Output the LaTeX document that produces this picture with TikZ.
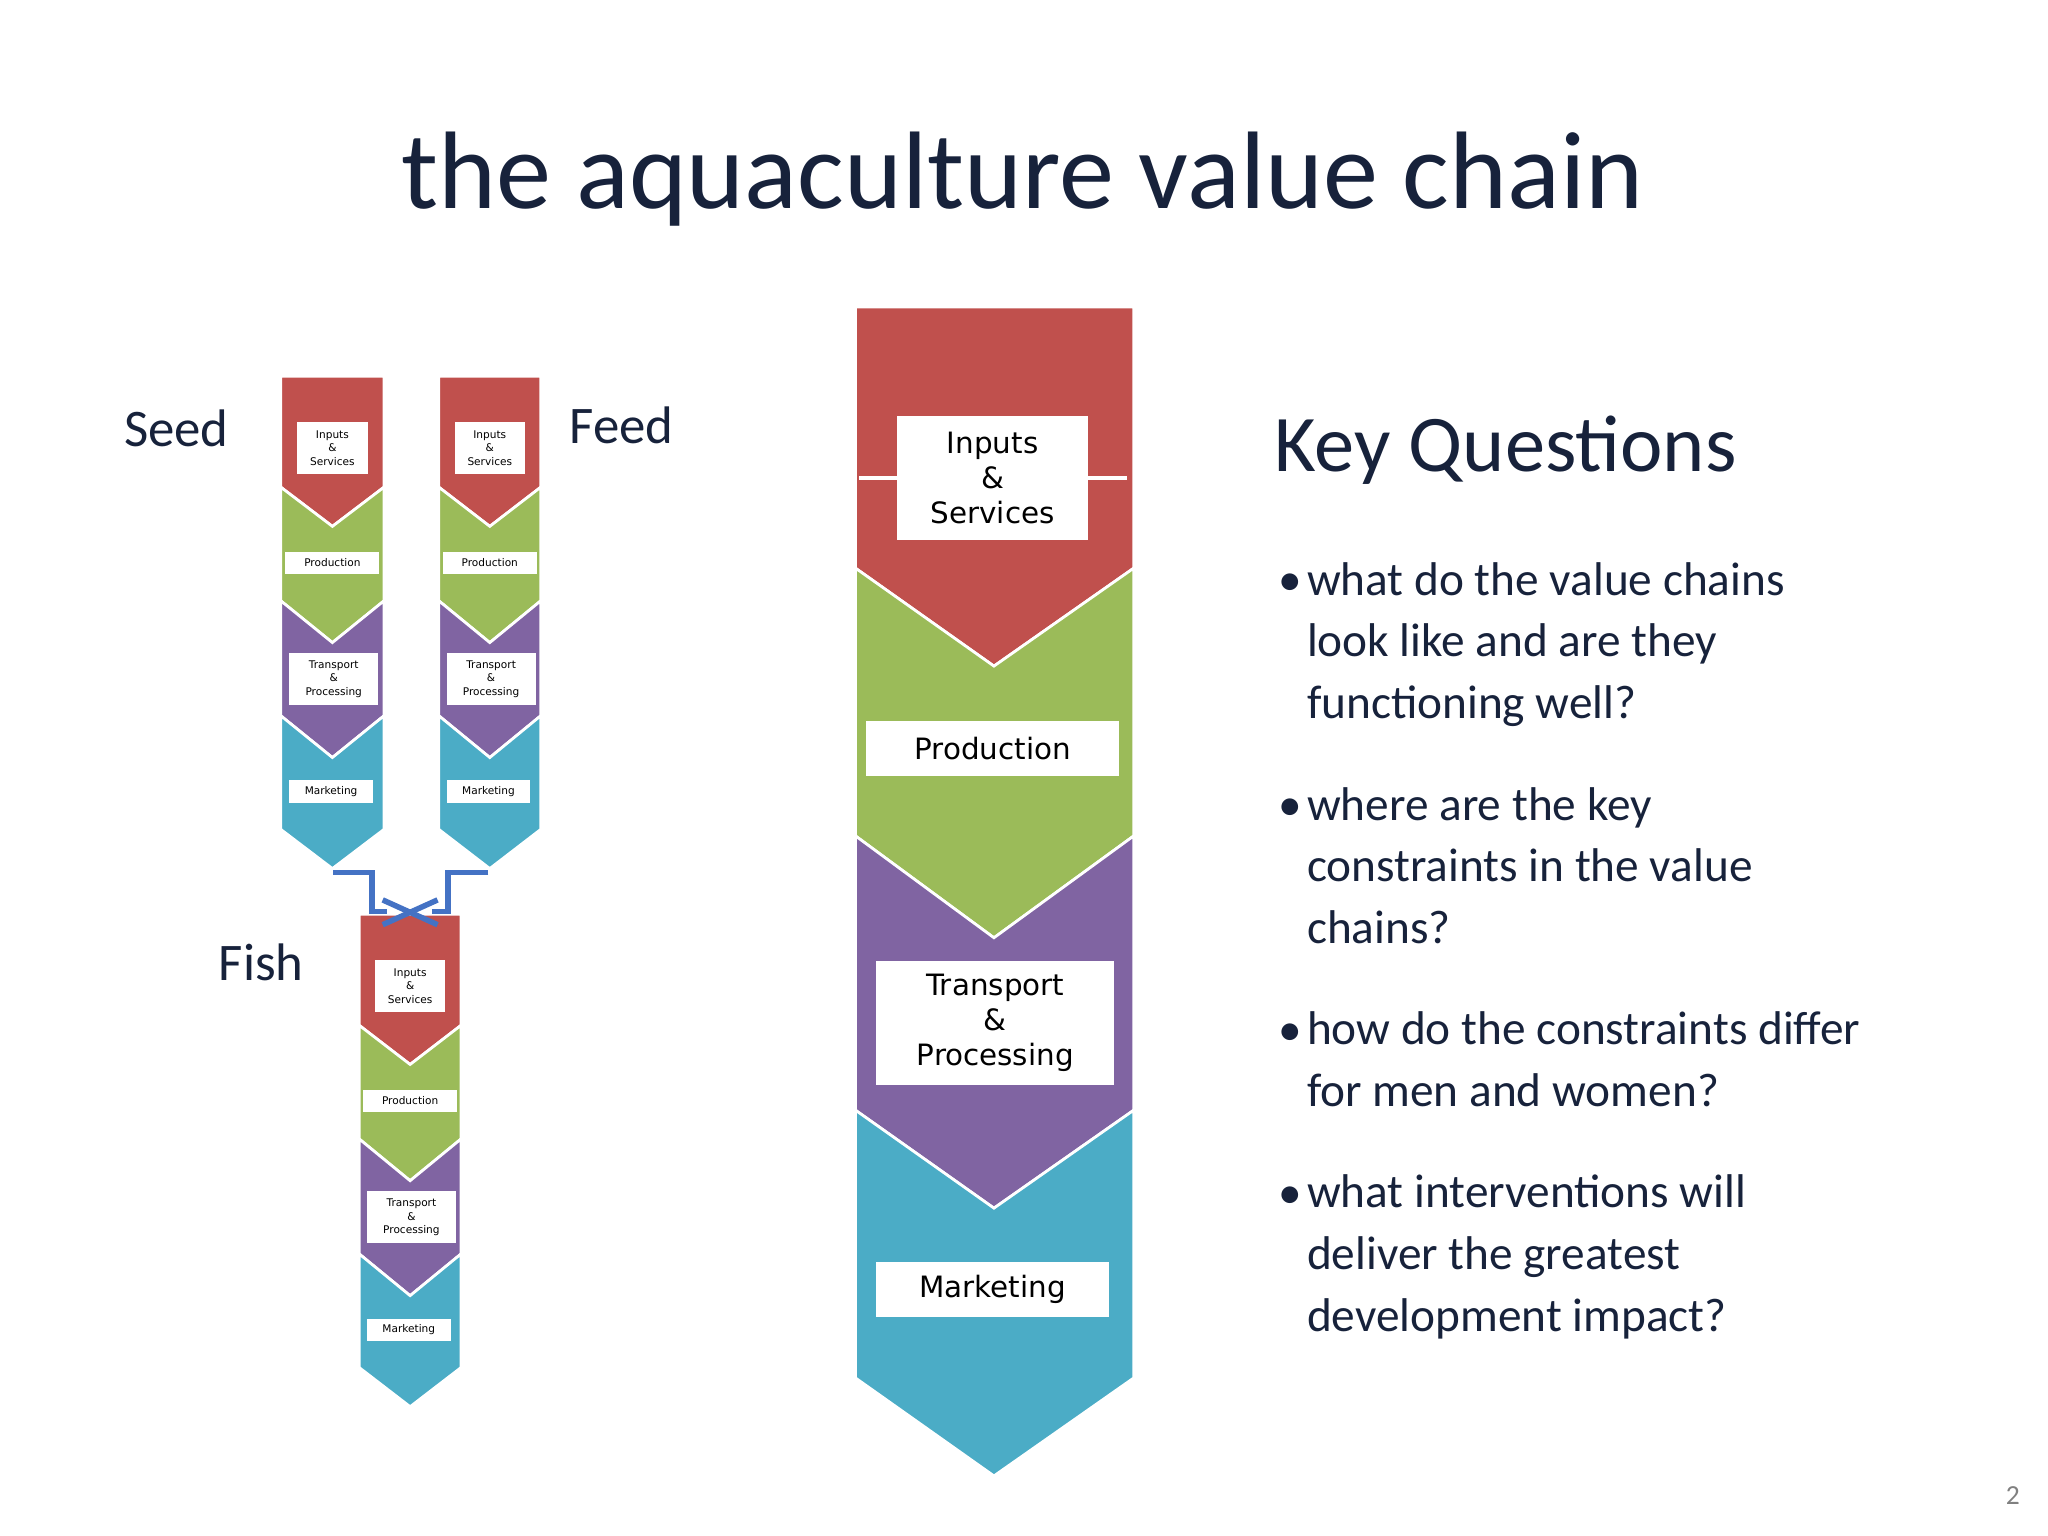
\documentclass[tikz,border=0pt]{standalone}
\usepackage{fontspec}
\setmainfont{Carlito}
\newfontfamily\lab{DejaVu Sans}
\definecolor{cred}{HTML}{C0504D}
\definecolor{cgreen}{HTML}{9BBB59}
\definecolor{cpurple}{HTML}{8064A2}
\definecolor{cblue}{HTML}{4BACC6}
\definecolor{navy}{HTML}{17223B}
\definecolor{lnk}{HTML}{4472C4}
\begin{document}
\begin{tikzpicture}[x=0.01cm,y=-0.01cm,
  seg/.style={draw=white,line width=0.6pt},
  biglab/.style={fill=white,font=\lab\fontsize{6.4pt}{7.6pt}\selectfont,align=center,inner sep=0pt},
  smlab/.style={fill=white,font=\lab\fontsize{2.3pt}{2.9pt}\selectfont,align=center,inner sep=0pt},
  link/.style={draw=lnk,line width=1.2pt}]
\useasboundingbox (0,0) rectangle (1568,1176);
\node[text=navy,font=\fontsize{24pt}{28pt}\selectfont] (title) at (783,137) {the aquaculture value chain};
% chain macro: #1 L, #2 R, #3 top, sides/points
\newcommand{\chainpoly}[6]{%
 \fill[#6,seg] (#1,#3) -- (#2,#3) -- (#2,#4) -- ({(#1+#2)/2},#5) -- (#1,#4) -- cycle;}
\newcommand{\segpoly}[6]{%
 \fill[#6,seg] (#1,#3) -- ({(#1+#2)/2},#4) -- (#2,#3) -- (#2,#5) -- ({(#1+#2)/2},#6) -- (#1,#5) -- cycle;}
% big chain
\fill[cred,seg] (655,235) -- (868,235) -- (868,435) -- (761,510) -- (655,435) -- cycle;
\fill[cgreen,seg] (655,435) -- (761,510) -- (868,435) -- (868,640) -- (761,718) -- (655,640) -- cycle;
\fill[cpurple,seg] (655,640) -- (761,718) -- (868,640) -- (868,850) -- (761,925) -- (655,850) -- cycle;
\fill[cblue,seg] (655,850) -- (761,925) -- (868,850) -- (868,1055) -- (761,1130) -- (655,1055) -- cycle;
\node[biglab,minimum width=146\pgflinewidth] (bi) at (760,366) {\rule{0pt}{0pt}};
\node[biglab,minimum width=1.46cm,minimum height=0.95cm] (bi) at (760,366) {Inputs\\\&\\Services};
\node[biglab,minimum width=1.94cm,minimum height=0.42cm] (bp) at (760,573) {Production};
\node[biglab,minimum width=1.82cm,minimum height=0.95cm] (bt) at (762,783) {Transport\\\&\\Processing};
\node[biglab,minimum width=1.78cm,minimum height=0.42cm] (bm) at (760,987) {Marketing};
% small chains
\foreach \nm/\L/\R/\T in {seed/215/294/288, feed/336/414/288, fish/275/353/700}{
  \pgfmathsetmacro{\C}{(\L+\R)/2}
  \pgfmathsetmacro{\o}{\T-288}
  \fill[cred,seg] (\L,\T) -- (\R,\T) -- (\R,373+\o) -- (\C,403+\o) -- (\L,373+\o) -- cycle;
  \fill[cgreen,seg] (\L,373+\o) -- (\C,403+\o) -- (\R,373+\o) -- (\R,460+\o) -- (\C,492+\o) -- (\L,460+\o) -- cycle;
  \fill[cpurple,seg] (\L,460+\o) -- (\C,492+\o) -- (\R,460+\o) -- (\R,548+\o) -- (\C,580+\o) -- (\L,548+\o) -- cycle;
  \fill[cblue,seg] (\L,548+\o) -- (\C,580+\o) -- (\R,548+\o) -- (\R,635+\o) -- (\C,665+\o) -- (\L,635+\o) -- cycle;
  \node[smlab,minimum width=0.54cm,minimum height=0.40cm] (\nm i) at (\C,343+\o) {Inputs\\\&\\Services};
  \node[smlab,minimum width=0.72cm,minimum height=0.17cm] (\nm p) at (\C,431+\o) {Production};
  \node[smlab,minimum width=0.68cm,minimum height=0.40cm] (\nm t) at (\C+1,520+\o) {Transport\\\&\\Processing};
  \node[smlab,minimum width=0.64cm,minimum height=0.17cm] (\nm m) at (\C-1,606+\o) {Marketing};
}
% connector
\coordinate (sa) at (255,668); \coordinate (fa) at (374,668);
\draw[link] (sa) -- (285,668) -- (285,698) -- (296,698);
\draw[link] (fa) -- (343,668) -- (343,698) -- (331,698);
\draw[link] (293,689) -- (335,708);
\draw[link] (335,689) -- (293,708);
% labels
\node[text=navy,font=\fontsize{11.5pt}{13pt}\selectfont] (lseed) at (135,328) {Seed};
\node[text=navy,font=\fontsize{11.5pt}{13pt}\selectfont] (lfeed) at (476,326) {Feed};
\node[text=navy,font=\fontsize{11.5pt}{13pt}\selectfont] (lfish) at (200,737) {Fish};
\node[text=navy,font=\fontsize{17.5pt}{20pt}\selectfont,anchor=west,inner sep=0pt] (kq) at (975,345) {Key Questions};
\foreach \y/\t in {450/what do the value chains\\look like and are they\\functioning well?,
                   622/where are the key\\constraints in the value\\chains?,
                   794/how do the constraints differ\\for men and women?,
                   919/what interventions will\\deliver the greatest\\development impact?}{
  \node[text=navy,anchor=west,inner sep=0pt,font=\fontsize{10.3pt}{13.4pt}\selectfont] at (978,\y-2) {\textbullet};
  \node[text=navy,anchor=north west,inner sep=0pt,align=left,font=\fontsize{10.3pt}{13.4pt}\selectfont] at (1000,\y-20) {\t};
}
\node[text=gray,font=\fontsize{6pt}{7pt}\selectfont] (pg) at (1541,1145) {2};
\end{tikzpicture}
\end{document}
